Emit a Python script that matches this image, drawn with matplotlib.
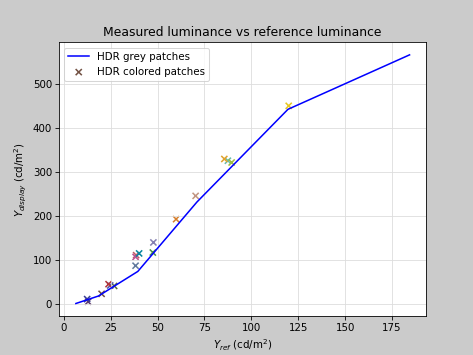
import numpy as np
import matplotlib
matplotlib.use("Agg")
import matplotlib.pyplot as plt

# grey patches (reference vs measured)
grey_ref = [6.5, 18.5, 39.5, 71.0, 119.5, 184.3]
grey_disp = [1, 18, 74, 232, 443, 567]

# colored patches (ColorChecker order)
col_names = ["dark skin", "light skin", "blue sky", "foliage", "blue flower", "bluish green",
             "orange", "purplish blue", "moderate red", "purple", "yellow green", "orange yellow",
             "blue", "green", "red", "yellow", "magenta", "cyan"]
col_ref = [20.2, 70.3, 38.3, 26.9, 47.8, 87.5, 59.9, 24.8, 38.6, 13.0, 89.5, 85.6,
           12.5, 47.5, 23.9, 119.9, 38.3, 40.2]
col_disp = [23, 246, 87, 41, 140, 326, 193, 42, 111, 5, 322, 330,
            11, 117, 45, 451, 107, 115]
col_rgb = [(115, 82, 68), (194, 150, 130), (98, 122, 157), (87, 108, 67), (133, 128, 177),
           (103, 189, 170), (214, 126, 44), (80, 91, 166), (193, 90, 99), (94, 60, 108),
           (157, 188, 64), (224, 163, 46), (56, 61, 150), (70, 148, 73), (175, 54, 60),
           (231, 199, 31), (187, 86, 149), (8, 133, 161)]
colors = np.array(col_rgb) / 255.0

fig, ax = plt.subplots(figsize=(6.4, 4.8), dpi=74)
fig.patch.set_facecolor('#cbcbcb')

ax.plot(grey_ref, grey_disp, color='b', label='HDR grey patches')
ax.scatter(col_ref, col_disp, marker='x', c=colors, label='HDR colored patches')

ax.set_title("Measured luminance vs reference luminance")
ax.set_xlabel(r"$Y_{ref}$ (cd/m$^2$)")
ax.set_ylabel(r"$Y_{display}$ (cd/m$^2$)")
ax.grid(True, color='#dcdcdc')
ax.legend(loc='upper left')

fig.savefig("out.png", facecolor=fig.get_facecolor())
